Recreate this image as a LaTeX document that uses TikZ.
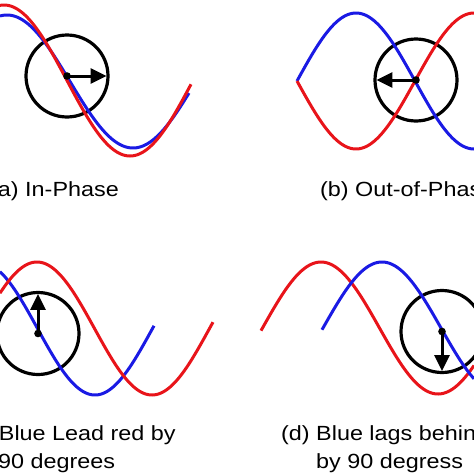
\documentclass[tikz,border=0pt]{standalone}
\usepackage{fontspec}
\setmainfont{Liberation Sans}
\usetikzlibrary{arrows.meta}
\definecolor{wred}{RGB}{232,20,26}
\definecolor{wblue}{RGB}{26,26,228}
\begin{document}
\begin{tikzpicture}[x=1pt,y=-1pt,
  wave/.style={line width=3pt},
  ring/.style={circle,draw,line width=3.2pt,minimum size=82pt,inner sep=0pt},
  vec/.style={line width=3pt,-{Triangle[length=16pt,width=15pt]}},
  dot/.style={fill=black},
  lbl/.style={inner sep=0pt,anchor=base west,font=\fontsize{20.5}{25}\selectfont}]
\useasboundingbox (0,0) rectangle (474,474);
\clip (0,0) rectangle (474,474);
% ---------- (a) In-Phase
\node[ring] (cA) at (67,76) {};
\draw[wave,wblue] plot[domain=0:189,samples=120,smooth] (\x,{81.5-66.5*cos((\x-7)/252*360)});
\draw[wave,wred] plot[domain=0:191,samples=120,smooth] (\x,{80.5-75.5*cos((\x-4)/252*360)});
\draw[vec] (cA.center) -- ([xshift=-3pt]cA.east);
\fill[dot] (cA.center) circle (3.8pt);
\node[lbl] (lA) at (-10,196) {\scalebox{1.14}[1]{(a) In-Phase}};
% ---------- (b) Out-of-Phase
\node[ring] (cB) at (416,80) {};
\draw[wave,wblue] plot[domain=297:474,samples=120,smooth] (\x,{81-68*sin((\x-297)/236*360)});
\draw[wave,wred] plot[domain=297:474,samples=120,smooth] (\x,{81+68*sin((\x-297)/236*360)});
\draw[vec] (cB.center) -- ([xshift=3pt]cB.west);
\fill[dot] (cB.center) circle (3.8pt);
\node[lbl] (lB) at (320,196) {\scalebox{1.14}[1]{(b) Out-of-Phase}};
% ---------- (c) Blue leads red by 90 degrees
\node[ring] (cC) at (38,333.5) {};
\draw[wave,wblue] plot[domain=0:154,samples=120,smooth] (\x,{328.5-66.5*cos((\x+20)/230*360)});
\draw[wave,wred] plot[domain=0:213,samples=120,smooth] (\x,{328.5-66.5*cos((\x-37)/230*360)});
\draw[vec] (cC.center) -- ([yshift=-3pt]cC.north);
\fill[dot] (cC.center) circle (3.8pt);
\node[lbl] (lC1) at (-35,440) {\scalebox{1.14}[1]{(c) Blue Lead red by}};
\node[lbl] (lC2) at (-2,468) {\scalebox{1.14}[1]{90 degrees}};
% ---------- (d) Blue lags behind red by 90 degrees
\node[ring] (cD) at (442,331.5) {};
\draw[wave,wred] plot[domain=261:474,samples=120,smooth] (\x,{328-66*cos((\x-321)/234*360)});
\draw[wave,wblue] plot[domain=322:474,samples=120,smooth] (\x,{328-66*cos((\x-382)/236*360)});
\draw[vec] (cD.center) -- ([yshift=3pt]cD.south);
\fill[dot] (cD.center) circle (3.8pt);
\node[lbl] (lD1) at (281,440) {\scalebox{1.14}[1]{(d) Blue lags behind}};
\node[lbl] (lD2) at (316,468) {\scalebox{1.14}[1]{by 90 degress}};
\end{tikzpicture}
\end{document}
